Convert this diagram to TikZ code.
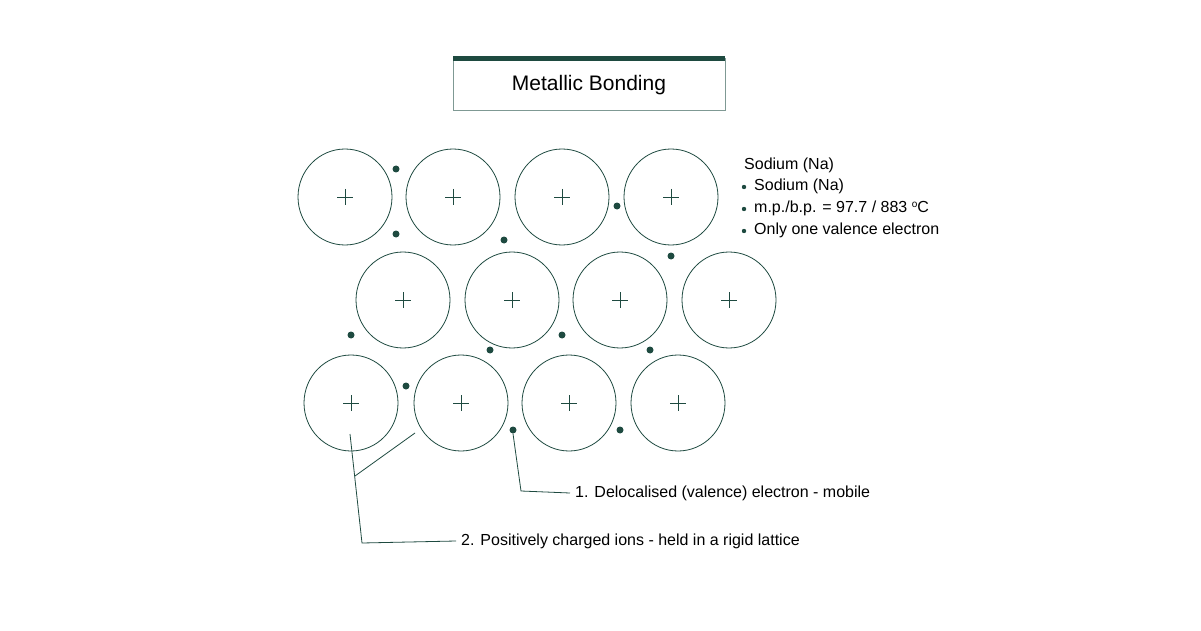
\documentclass[tikz,border=0pt]{standalone}
\usepackage{fontspec}
\usetikzlibrary{shapes.geometric}
\setmainfont{Liberation Sans}
\definecolor{dg}{HTML}{1E4A40}
\definecolor{bx}{HTML}{7F9994}
\begin{document}
\begin{tikzpicture}[x=1pt,y=-1pt,
  ion/.style={draw=dg,line width=0.8pt,ellipse,minimum width=94pt,minimum height=96pt,inner sep=0pt},
  elec/.style={circle,fill=dg,minimum size=7pt,inner sep=0pt},
  lead/.style={draw=dg,line width=0.8pt},
  lbl/.style={anchor=west,font=\fontsize{16}{19}\selectfont,inner sep=0pt}]
\useasboundingbox (0,0) rectangle (1201,631);
% title
\node[draw=bx,line width=1pt,minimum width=272pt,minimum height=52pt,inner sep=0pt,font=\fontsize{21}{24}\selectfont] (title) at (589,85) {Metallic Bonding};
\fill[dg] (453,56) rectangle (725,61);
% ions
\foreach \n/\x/\y in {a1/345/197,a2/453/197,a3/562/197,a4/671/197,
  b1/403/300,b2/512/300,b3/620/300,b4/729/300,
  c1/351/403,c2/461/403,c3/569/403,c4/678/403}{
  \node[ion] (\n) at (\x,\y) {};
  \draw[dg,line width=0.8pt] (\x-8,\y) -- (\x+8,\y) (\x,\y-8) -- (\x,\y+8);
}
% electrons
\foreach \n/\x/\y in {e1/396/169,e2/396/234,e3/504/240,e4/617/206,e5/671/256,e6/351/335,e7/490/350,e8/562/335,e9/650/350,e10/406/386,e11/513/430,e12/620/430}{
  \node[elec] (\n) at (\x,\y) {};
}
% side text
\node[lbl] (s0) at (744,165) {Sodium (Na)};
\node[lbl] (s1) at (754,186) {Sodium (Na)};
\node[lbl] (s2) at (754,208) {m.p./b.p. = 97.7 / 883 \raisebox{0.6ex}{\fontsize{10}{10}\selectfont o}C};
\node[lbl] (s3) at (754,230) {Only one valence electron};
\foreach \y in {186,208,230}{\fill[dg] (744,\y+1) circle (2.2pt);}
% labels
\node[lbl] (l1) at (575,493) {1. Delocalised (valence) electron - mobile};
\node[lbl] (l2) at (461,541) {2. Positively charged ions - held in a rigid lattice};
\coordinate (p1) at (350,434);
\coordinate (p2) at (415,433);
\coordinate (j) at (355,476);
\draw[lead] (e11.south) -- (521,491) -- ([xshift=-5pt]l1.west);
\draw[lead] (p1) -- (362,543) -- ([xshift=-5pt]l2.west);
\draw[lead] (j) -- (p2);
\end{tikzpicture}
\end{document}
